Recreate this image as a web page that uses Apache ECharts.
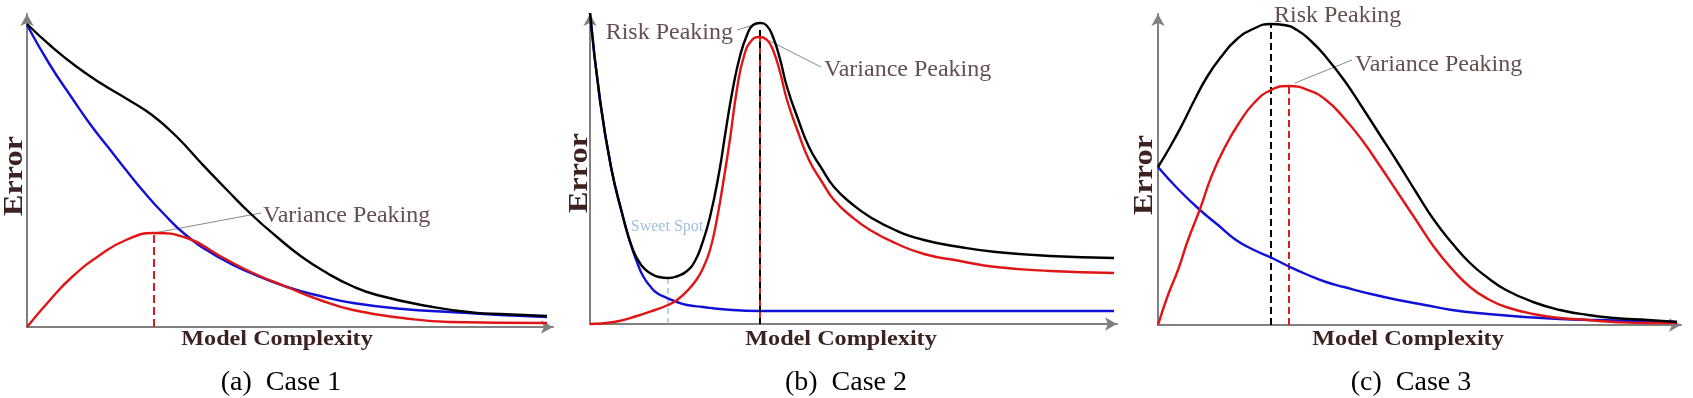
<!DOCTYPE html>
<html>
<head>
<meta charset="utf-8">
<script src="https://cdn.jsdelivr.net/npm/echarts@6/dist/echarts.min.js"></script>
<style>
  html, body { margin: 0; padding: 0; background: #fff; }
  #chart { width: 1693px; height: 398px; }
</style>
</head>
<body>
<div id="chart"></div>
<script>
var case1Black = [[0,303],[25,280],[50,260],[75,243],[100,228],[125,212],[150,190],[175,163],[200,137],[225,112],[250,90],[275,70],[300,54],[325,41],[350,32],[400,21],[450,14],[473,13],[520,11]]
var case1Blue = [[0,302],[23,262],[45,229],[63,203],[81,180],[99,157],[117,135],[135,115],[160,91],[193,69],[226,53],[260,40],[293,31],[326,24],[376,18],[423,15],[473,12],[520,10]]
var case1Red = [[0,0],[23,27],[45,50],[73,72],[99,87],[127,94],[160,89],[193,71],[226,54],[260,40],[293,27],[326,17],[376,9],[423,5],[520,4]]

var case2Black = [[0,311],[10,224],[21,157],[32,111],[43,74],[52,58],[60,51],[69,47],[78,46],[88,48],[97,53],[105,63],[112,80],[120,107],[129,151],[136,195],[143,236],[150,268],[157,289],[163,299],[170,301],[177,298],[183,287],[190,265],[197,237],[208,205],[219,177],[232,155],[244,137],[262,120],[280,107],[305,94],[334,84],[370,77],[406,72],[460,68],[524,66]]
var case2Blue = [[0,311],[10,224],[21,157],[32,111],[40,82],[47,62],[53,48],[60,38],[67,31],[77,26],[87,22],[97,19],[113,17],[130,15],[170,13],[260,13],[400,13],[524,13]]
var case2Red = [[0,0],[24,2],[47,8],[65,14],[78,19],[87,24],[97,33],[107,45],[114,58],[120,74],[126,100],[133,140],[140,185],[147,235],[154,268],[162,284],[170,287],[177,284],[183,274],[190,252],[197,224],[208,192],[219,164],[232,142],[244,124],[262,107],[280,94],[305,81],[334,70],[370,63],[406,57],[460,53],[524,51]]

var case3Black = [[0,158],[12,178],[24,200],[36,224],[49,248],[63,268],[78,285],[95,296],[113,301],[126,300],[139,295],[153,284],[168,268],[186,245],[204,218],[222,190],[240,162],[258,133],[276,105],[294,82],[312,62],[330,47],[348,35],[375,23],[402,15],[430,10],[456,7],[490,5],[519,3]]
var case3Blue = [[0,158],[20,136],[42,115],[60,100],[78,85],[96,75],[114,67],[132,58],[150,50],[168,43],[186,38],[213,31],[240,25],[267,20],[294,15],[330,11],[366,8],[402,6],[438,5],[480,4],[519,3]]
var case3Red = [[0,0],[10,30],[20,55],[30,85],[42,116],[54,150],[67,178],[81,202],[96,222],[113,235],[131,239],[150,235],[168,225],[186,207],[204,185],[222,159],[240,132],[258,105],[276,78],[294,56],[312,38],[330,26],[348,18],[375,11],[402,7],[430,5],[456,3],[490,2],[519,2]]

// peak markers, leaders and notes
var case1RedPeak = [[127,0],[127,94]]
var case1Leader = [[127,94],[234,114]]
var case1Notes = [{ name: 'Variance Peaking', value: [235,111], pos: 'right' }]

var case2SweetSpot = [[78,0],[78,46]]
var case2BlackPeak = [[170,0],[170,301]]
var case2RedPeak = [[170,0],[170,287]]
var case2RiskLeader = [[170,301],[147,294]]
var case2VarLeader = [[172,287],[231,257]]
var case2Notes = [
  { name: 'Risk Peaking', value: [144,291], pos: 'left' },
  { name: 'Variance Peaking', value: [233,254], pos: 'right' }
]
var case2SweetNote = [{ name: 'Sweet Spot', value: [77,97] }]

var case3BlackPeak = [[113,0],[113,301]]
var case3RedPeak = [[131,0],[131,239]]
var case3VarLeader = [[137,242],[194,265]]
var case3Notes = [
  { name: 'Risk Peaking', value: [115,309], pos: 'right' },
  { name: 'Variance Peaking', value: [196,260], pos: 'right' }
]

var captions = ['(a)  Case 1', '(b)  Case 2', '(c)  Case 3']

var FONT = '"Liberation Serif", "DejaVu Serif", serif'
var TXT = '#3d2222'

var chart = echarts.init(document.getElementById('chart'))

// one grid per panel, 1 data unit = 1 px
var grids = [
  { left: 27, top: 14, width: 526, height: 313 },
  { left: 590, top: 14, width: 527, height: 310 },
  { left: 1158, top: 14, width: 523, height: 311 }
]

function axis(i, max) {
  return {
    type: 'value', gridIndex: i, min: 0, max: max,
    axisLine: { show: true, symbol: ['none', 'arrow'], symbolSize: [10, 12], lineStyle: { color: '#808080', width: 2 } },
    axisTick: { show: false }, axisLabel: { show: false }, splitLine: { show: false }
  }
}

function curve(i, data, color) {
  return {
    type: 'line', xAxisIndex: i, yAxisIndex: i, data: data, clip: false,
    smooth: 0.5, symbol: 'none', silent: true,
    lineStyle: { color: color, width: 2.4 }
  }
}

function dashed(i, data, color, width, dash, offset) {
  return {
    type: 'line', xAxisIndex: i, yAxisIndex: i, data: data, clip: false,
    symbol: 'none', silent: true,
    lineStyle: { color: color, width: width, type: dash, dashOffset: offset || 0 }
  }
}

function notes(i, data, size, color) {
  return {
    type: 'scatter', xAxisIndex: i, yAxisIndex: i, symbolSize: 0, silent: true,
    data: data.map(function(d) {
      return { name: d.name, value: d.value, label: { position: d.pos || 'inside' } }
    }),
    label: { show: true, formatter: '{b}', distance: 1, fontFamily: FONT, fontSize: size, color: color }
  }
}

var graphic = []
var errX = [15, 580, 1145]
var errY = [176, 173, 175]
var mcX = [277, 841, 1408]
var capX = [281, 846, 1411]
for (var i = 0; i < 3; i++) {
  graphic.push({
    type: 'text', x: errX[i], y: errY[i], rotation: Math.PI / 2, scaleX: 1.15,
    style: { text: 'Error', font: 'bold 28px ' + FONT, fill: TXT, align: 'center', verticalAlign: 'middle', textAlign: 'center', textVerticalAlign: 'middle' }
  })
  graphic.push({
    type: 'text', x: mcX[i], y: 339, scaleX: 1.1,
    style: { text: 'Model Complexity', font: 'bold 22px ' + FONT, fill: TXT, align: 'center', verticalAlign: 'middle', textAlign: 'center', textVerticalAlign: 'middle' }
  })
  graphic.push({
    type: 'text', x: capX[i], y: 383,
    style: { text: captions[i], font: '28px ' + FONT, fill: '#000', align: 'center', verticalAlign: 'middle', textAlign: 'center', textVerticalAlign: 'middle' }
  })
}

var option = {
  animation: false,
  backgroundColor: '#fff',
  grid: grids,
  xAxis: [axis(0, 526), axis(1, 527), axis(2, 523)],
  yAxis: [axis(0, 313), axis(1, 310), axis(2, 311)],
  graphic: graphic,
  series: [
    // (a)
    dashed(0, case1Leader, '#8a8a8a', 1, 'solid'),
    dashed(0, case1RedPeak, '#d42020', 2, [8, 4]),
    curve(0, case1Blue, '#1010d8'),
    curve(0, case1Red, '#e01515'),
    curve(0, case1Black, '#000'),
    notes(0, case1Notes, 24, TXT),
    // (b)
    dashed(1, case2RiskLeader, '#8a8a8a', 1, 'solid'),
    dashed(1, case2VarLeader, '#8a8a8a', 1, 'solid'),
    dashed(1, case2SweetSpot, '#8fb0dc', 1.2, [6, 4]),
    curve(1, case2Blue, '#1010d8'),
    curve(1, case2Red, '#e01515'),
    curve(1, case2Black, '#000'),
    dashed(1, case2BlackPeak, '#000', 2, [6, 6]),
    dashed(1, case2RedPeak, '#d42020', 2, [6, 6], 6),
    notes(1, case2Notes, 24, TXT),
    notes(1, case2SweetNote, 16, '#8aaedc'),
    // (c)
    dashed(2, case3VarLeader, '#8a8a8a', 1, 'solid'),
    dashed(2, case3BlackPeak, '#000', 2, [7, 4]),
    dashed(2, case3RedPeak, '#d42020', 2, [7, 4]),
    curve(2, case3Blue, '#1010d8'),
    curve(2, case3Red, '#e01515'),
    curve(2, case3Black, '#000'),
    notes(2, case3Notes, 24, TXT)
  ]
}
chart.setOption(option)
window.addEventListener('resize', function() {
  chart.resize()
})
</script>
</body>
</html>
